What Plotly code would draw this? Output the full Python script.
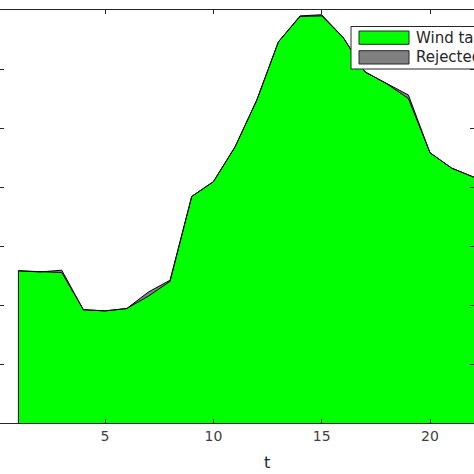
import plotly.graph_objects as go

# hourly values (y axis units hidden in the crop)
t = list(range(1, 25))
wind_taken = [2.58, 2.56, 2.55, 1.92, 1.90, 1.94, 2.15, 2.40, 3.84, 4.09, 4.68, 5.47,
              6.46, 6.89, 6.90, 6.53, 5.95, 5.75, 5.50, 4.58, 4.32, 4.17, 3.95, 3.70]
rejected = [0.0, 0.0, 0.04, 0.0, 0.0, 0.0, 0.07, 0.02, 0.0, 0.0, 0.0, 0.0,
            0.0, 0.01, 0.02, 0.0, 0.0, 0.0, 0.06, 0.0, 0.0, 0.0, 0.0, 0.0]
series_names = ["Wind taken", "Rejected wind"]
series_colors = ["#00ff00", "#808080"]
x_ticks = [0, 5, 10, 15, 20]
y_ticks = [0, 1, 2, 3, 4, 5, 6, 7]

W, H = 474, 474
TOP, BOTTOM = 10, 423  # plot area edges in pixels


def px(x):
    return x / W


def py(y):
    return (BOTTOM - y) / (BOTTOM - TOP)


fig = go.Figure()
for vals, name, color in zip([wind_taken, rejected], series_names, series_colors):
    fig.add_trace(go.Scatter(
        x=t, y=vals, name=name,
        stackgroup="one", mode="lines",
        line=dict(color="black", width=1),
        fillcolor=color, showlegend=False,
    ))
# vertical left edge of the area, like MATLAB's area outline
fig.add_shape(type="line", x0=t[0], x1=t[0], y0=0, y1=wind_taken[0],
              line=dict(color="black", width=1))

# MATLAB-style legend box with big swatches (runs off the right edge like the original)
fig.add_shape(type="rect", xref="paper", yref="paper",
              x0=px(351), x1=px(490), y0=py(69), y1=py(26.5),
              fillcolor="white", line=dict(color="#262626", width=1))
for i, (name, color) in enumerate(zip(series_names, series_colors)):
    top = 31 + i * 19.7
    fig.add_shape(type="rect", xref="paper", yref="paper",
                  x0=px(359), x1=px(409), y0=py(top + 13.3), y1=py(top),
                  fillcolor=color, line=dict(color="#262626", width=1))
    fig.add_annotation(x=px(414), y=py(top + 6.7), xref="paper", yref="paper",
                       text=name, showarrow=False, xanchor="left", yanchor="middle",
                       font=dict(size=15, color="#262626"))

# x label sits at the centre of the full (cropped) axis, not the visible part
fig.add_annotation(x=px(267), y=py(463), xref="paper", yref="paper",
                   text="t", showarrow=False, xanchor="center", yanchor="middle",
                   font=dict(size=16, color="#262626"))

fig.update_layout(
    width=W, height=H,
    paper_bgcolor="white", plot_bgcolor="white",
    font=dict(family="DejaVu Sans", size=14, color="#262626"),
    margin=dict(l=0, r=0, t=TOP, b=H - BOTTOM, autoexpand=False),
    showlegend=False,
    xaxis=dict(
        range=[0.15, 22.03], tickvals=x_ticks,
        ticks="inside", ticklen=4, tickcolor="#262626",
        showline=True, linecolor="#262626", linewidth=1, mirror="ticks",
        showgrid=False, zeroline=False,
        tickfont=dict(size=14, color="#404040"),
    ),
    yaxis=dict(
        range=[0, 7], tickvals=y_ticks,
        ticks="inside", ticklen=4, tickcolor="#262626",
        showline=True, linecolor="#262626", linewidth=1, mirror="ticks",
        showgrid=False, zeroline=False, showticklabels=False,
    ),
)

# page body has a default 8px margin; drop it so the figure sits at the corner
fig.write_html("out.html", config={"displayModeBar": False},
               post_script="document.body.style.margin = '0';")
